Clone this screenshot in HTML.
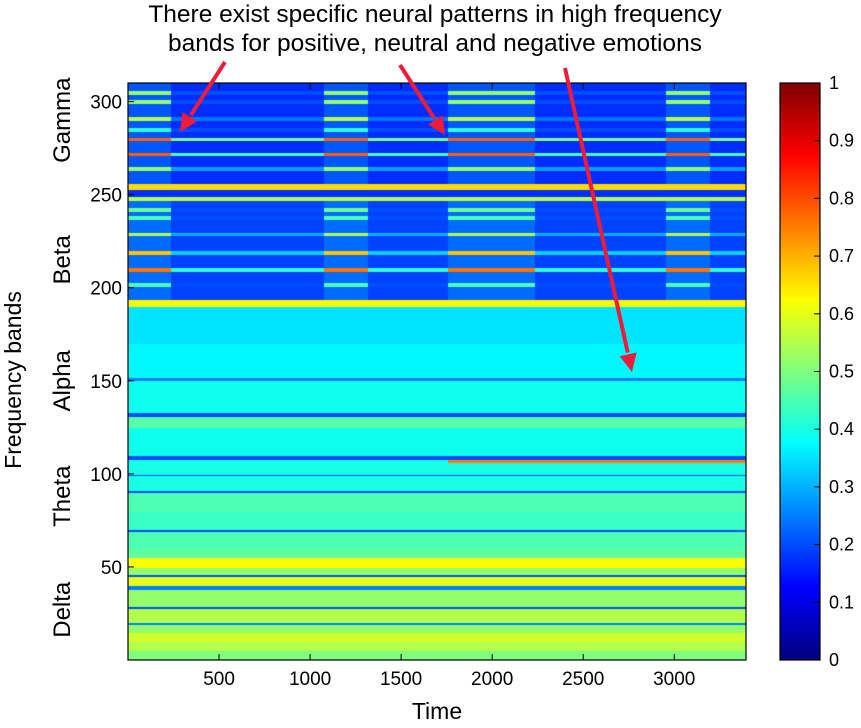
<!DOCTYPE html>
<html><head><meta charset="utf-8"><style>
body{margin:0;background:#fff;width:861px;height:728px;overflow:hidden;font-family:"Liberation Sans",sans-serif}
#wrap{position:relative;width:861px;height:728px}
canvas{position:absolute}
svg{position:absolute;left:0;top:0}
</style></head><body>
<div id="wrap">
<canvas id="hm" width="618" height="577" style="left:128px;top:83px"></canvas>
<canvas id="cb" width="40" height="577" style="left:780px;top:83px"></canvas>
<svg id="ov" width="861" height="728"></svg>
</div>
<script>
// ---- data ----
const baseSegments = [
 [0,5,0.5],[5,10,0.55],[10,15,0.58],[15,19,0.52],[19,20,0.25],[20,28,0.55],[28,29,0.2],[29,38,0.52],
 [38,40,0.25],[40,45,0.6],[45,46,0.2],[46,50,0.52],[50,55,0.62],[55,60,0.47],[60,69,0.45],[69,70,0.2],
 [70,80,0.43],[80,90,0.45],[90,91,0.2],[91,99,0.4],[99,100,0.2],[100,108,0.4],[108,110,0.2],
 [110,125,0.39],[125,131,0.46],[131,133,0.2],[133,150,0.39],[150,152,0.25],[152,170,0.37],[170,190,0.35],
 [190,194,0.63],[194,247,0.19],[247,249,0.55],[249,253,0.17],[253,256,0.66],[256,311,0.17]
];
const stripeFreqs   = [305,300,291,285,280,272,264,242,238,229,219,210,202,107];
const stripeIdle    = [0.2,0.2,0.24,0.2,0.5,0.45,0.28,0.2,0.2,0.3,0.33,0.42,0.2,0.45];
const stripeActive  = [0.52,0.52,0.55,0.42,0.78,0.78,0.52,0.48,0.45,0.55,0.68,0.76,0.45,0.75];
const activeStarts  = [0,1100,1750,2960];
const activeEnds    = [250,1330,2260,3200];
const xTicks = [500,1000,1500,2000,2500,3000];
const yTicks = [50,100,150,200,250,300];
const cbTicks = [0,0.1,0.2,0.3,0.4,0.5,0.6,0.7,0.8,0.9,1];
const bandNames = ["Delta","Theta","Alpha","Beta","Gamma"];
const bandCenters = [27,88,150,215,290];

// ---- scales ----
const X0=128,X1=746,Y0=83,Y1=660,TMAX=3394,FMAX=310;
const xs=t=>X0+t/TMAX*(X1-X0);
const ys=f=>Y1-f/FMAX*(Y1-Y0);
function jet(v){v=Math.max(0,Math.min(1,v));
 const r=Math.max(0,Math.min(1,1.5-Math.abs(4*v-3))),g=Math.max(0,Math.min(1,1.5-Math.abs(4*v-2))),b=Math.max(0,Math.min(1,1.5-Math.abs(4*v-1)));
 return `rgb(${r*255|0},${g*255|0},${b*255|0})`;}
function isActive(t){for(let i=0;i<activeStarts.length;i++)if(t>=activeStarts[i]&&t<activeEnds[i])return true;return false;}
function value(f,t){
 let v=0.3;for(const s of baseSegments)if(f>=s[0]&&f<s[1]){v=s[2];break;}
 const a=isActive(t);
 if(f>194&&a&&!(f>=247&&f<256))v+=0.04;
 for(let i=0;i<stripeFreqs.length;i++){if(Math.abs(f-stripeFreqs[i])<=1.2){
   if(stripeFreqs[i]===107){if(t>1750)v=stripeActive[i];}
   else v=a?stripeActive[i]:stripeIdle[i];}}
 return v;
}
// ---- heatmap ----
const ctx=document.getElementById('hm').getContext('2d');
const dt=40,df=1;
for(let t=0;t<TMAX;t+=dt){for(let f=0;f<FMAX;f+=df){
 ctx.fillStyle=jet(value(f+0.5,t+dt/2));
 const x=xs(t)-X0,y=ys(f+df)-Y0;
 ctx.fillRect(Math.floor(x),Math.floor(y),Math.ceil(xs(t+dt)-xs(t))+1,Math.ceil(ys(f)-ys(f+df))+1);
}}
const cb=document.getElementById('cb').getContext('2d');
for(let i=0;i<577;i++){cb.fillStyle=jet(1-i/576);cb.fillRect(0,i,40,1);}
// ---- svg overlay ----
const NS="http://www.w3.org/2000/svg",svg=document.getElementById('ov');
function el(tag,attrs,txt){const e=document.createElementNS(NS,tag);for(const k in attrs)e.setAttribute(k,attrs[k]);if(txt!=null)e.textContent=txt;svg.appendChild(e);return e;}
let e;
e=el('rect',{x:X0,y:Y0,width:X1-X0,height:Y1-Y0,fill:'none',stroke:'#000','stroke-width':1.2});

e=el('rect',{x:780,y:83,width:40,height:577,fill:'none',stroke:'#000','stroke-width':1.2});

xTicks.forEach(t=>{
 e=el('line',{x1:xs(t),x2:xs(t),y1:Y1,y2:Y1-6,stroke:'#000'});
 
 e=el('line',{x1:xs(t),x2:xs(t),y1:Y0,y2:Y0+6,stroke:'#000'});
 
 e=el('text',{x:xs(t),y:685,'font-size':19,'text-anchor':'middle'},t);
 
});
yTicks.forEach(f=>{
 e=el('line',{x1:X0,x2:X0+6,y1:ys(f),y2:ys(f),stroke:'#000'});
 
 e=el('text',{x:122,y:ys(f)+7,'font-size':19,'text-anchor':'end'},f);
 
});
cbTicks.forEach(v=>{
 const y=660-v*577;
 e=el('line',{x1:814,x2:820,y1:y,y2:y,stroke:'#000'});
 
 e=el('text',{x:829,y:y+6,'font-size':18},v);
 
});
bandNames.forEach((n,i)=>{
 const y=ys(bandCenters[i]);
 e=el('text',{x:0,y:0,'font-size':24,'text-anchor':'middle',transform:`translate(70,${y}) rotate(-90)`},n);
 
});
e=el('text',{x:0,y:0,'font-size':23,'text-anchor':'middle',transform:'translate(21,380) rotate(-90)'},'Frequency bands');

e=el('text',{x:437,y:719,'font-size':23,'text-anchor':'middle'},'Time');

e=el('text',{x:435,y:22,'font-size':24.5,'text-anchor':'middle'},'There exist specific neural patterns in high frequency');

e=el('text',{x:435,y:51,'font-size':24.5,'text-anchor':'middle'},'bands for positive, neutral and negative emotions');

[[225,62,180,132],[400,65,445,135],[565,68,632,372]].forEach(a=>{
 const [x1,y1,x2,y2]=a,ang=Math.atan2(y2-y1,x2-x1),L=20,W=0.45;
 const bx=x2-L*Math.cos(ang),by=y2-L*Math.sin(ang);
 e=el('line',{x1,y1,x2:bx,y2:by,stroke:'#ee1c3a','stroke-width':4});
 
 const p=`${x2},${y2} ${x2-L*Math.cos(ang-W)},${y2-L*Math.sin(ang-W)} ${x2-L*Math.cos(ang+W)},${y2-L*Math.sin(ang+W)}`;
 e=el('polygon',{points:p,fill:'#ee1c3a'});
 
});
</script>
</body></html>
